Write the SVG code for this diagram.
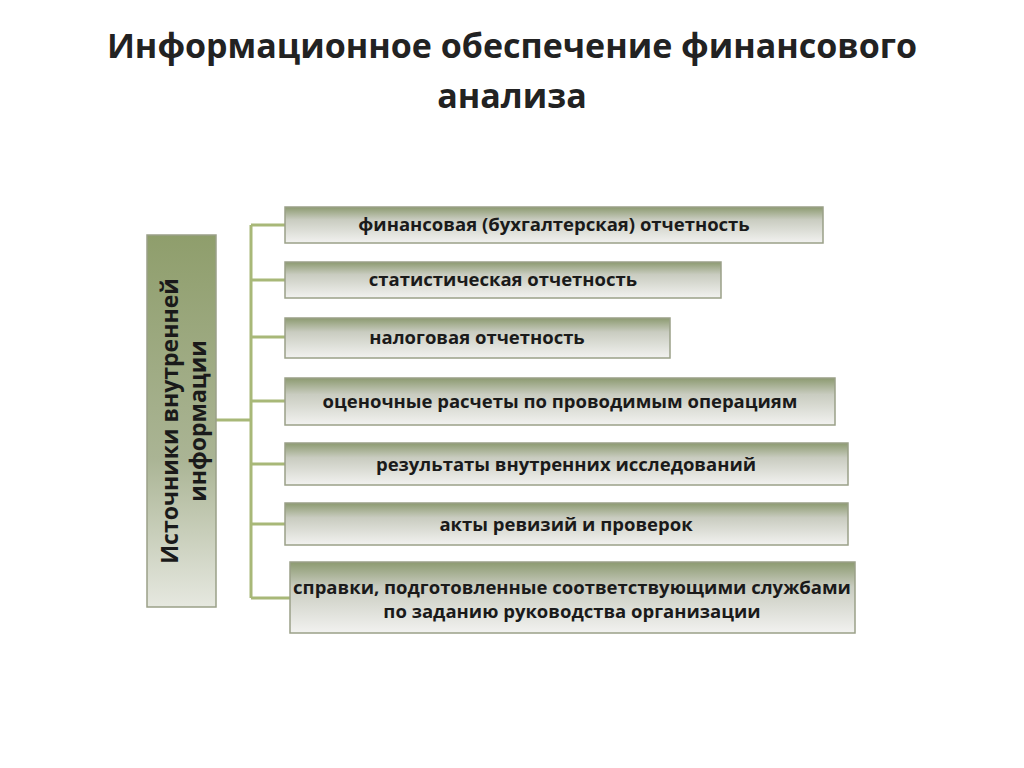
<svg xmlns="http://www.w3.org/2000/svg" width="1024" height="768" viewBox="0 0 1024 768">
<defs>
<linearGradient id="g" x1="0" y1="0" x2="0" y2="1"><stop offset="0" stop-color="#8c9a70"/><stop offset="0.35" stop-color="#c9ccc0"/><stop offset="1" stop-color="#f2f2f0"/></linearGradient>
<linearGradient id="gl" x1="0" y1="0" x2="0" y2="1"><stop offset="0" stop-color="#8f9e6c"/><stop offset="0.6" stop-color="#aab494"/><stop offset="1" stop-color="#e6e8e0"/></linearGradient>
</defs>
<style>
.b{fill:url(#g);stroke:#9aa088;stroke-width:1.5}
.t{font-family:"Open Sans","Liberation Sans",sans-serif;font-weight:bold;font-size:18.5px;fill:#1a1a1a;text-anchor:middle}
.c{stroke:#a8b878;stroke-width:3;fill:none}
</style>
<rect width="1024" height="768" fill="#fff"/>
<text x="512" y="58" font-family="'Open Sans','Liberation Sans',sans-serif" font-weight="bold" font-size="34" fill="#222" text-anchor="middle">Информационное обеспечение финансового</text>
<text x="512" y="108" font-family="'Open Sans','Liberation Sans',sans-serif" font-weight="bold" font-size="34" fill="#222" text-anchor="middle">анализа</text>
<g id="connectors">
<path class="c" d="M216 420H252M251 225V598M251 225H285M251 280H285M251 337H285M251 401H285M251 464H285M251 524H285M251 598H290"/>
</g>
<g id="left"><rect x="147" y="235" width="69" height="372" fill="url(#gl)" stroke="#9aa088" stroke-width="1.5"/>
<text transform="translate(182 421) rotate(-90)" class="t" style="font-size:23px"><tspan x="0" y="-4">Источники внутренней</tspan><tspan x="0" y="24">информации</tspan></text></g>
<g id="n1"><rect class="b" x="285" y="207" width="538" height="36"/><text class="t" x="554" y="231">финансовая (бухгалтерская) отчетность</text></g>
<g id="n2"><rect class="b" x="285" y="262" width="436" height="36"/><text class="t" x="503" y="286">статистическая отчетность</text></g>
<g id="n3"><rect class="b" x="285" y="318" width="385" height="40"/><text class="t" x="477" y="344">налоговая отчетность</text></g>
<g id="n4"><rect class="b" x="285" y="378" width="550" height="47"/><text class="t" x="560" y="408">оценочные расчеты по проводимым операциям</text></g>
<g id="n5"><rect class="b" x="285" y="443" width="563" height="42"/><text class="t" x="566" y="471">результаты внутренних исследований</text></g>
<g id="n6"><rect class="b" x="285" y="503" width="563" height="42"/><text class="t" x="566" y="531">акты ревизий и проверок</text></g>
<g id="n7"><rect class="b" x="290" y="562" width="565" height="71"/><text class="t" x="572" y="594">справки, подготовленные соответствующими службами</text><text class="t" x="572" y="618">по заданию руководства организации</text></g>
</svg>
